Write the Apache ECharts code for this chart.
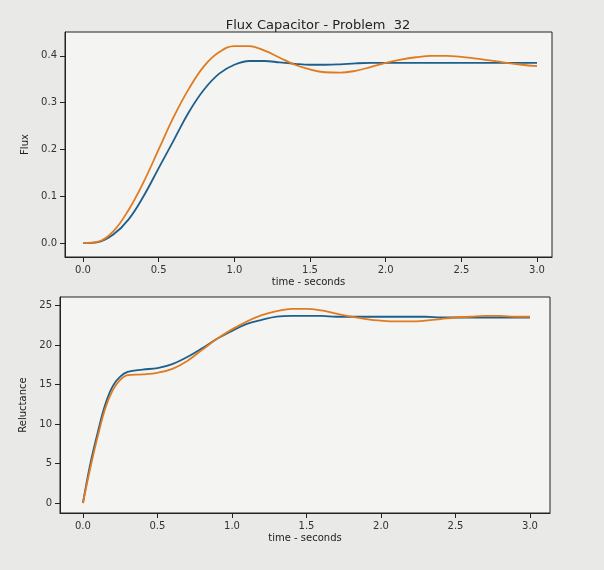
<!DOCTYPE html>
<html><head><meta charset="utf-8">
<script src="https://cdn.jsdelivr.net/npm/echarts@6/dist/echarts.min.js"></script>
<style>html,body{margin:0;padding:0;background:#e9e9e7}#c{width:604px;height:570px}</style>
</head><body><div id="c"></div>
<script>
const t = [0,0.1,0.2,0.3,0.4,0.5,0.6,0.7,0.8,0.9,1.0,1.1,1.2,1.3,1.4,1.5,1.6,1.7,1.8,1.9,2.0,2.1,2.2,2.3,2.4,2.5,2.6,2.7,2.8,2.9,3.0];
const fluxBlue = [0,0.002,0.018,0.05,0.10,0.16,0.22,0.28,0.328,0.362,0.381,0.389,0.389,0.386,0.383,0.381,0.381,0.382,0.384,0.385,0.385,0.385,0.385,0.385,0.385,0.385,0.385,0.385,0.385,0.385,0.385];
const fluxOrange = [0,0.003,0.025,0.07,0.13,0.20,0.27,0.33,0.378,0.408,0.421,0.421,0.411,0.396,0.381,0.371,0.365,0.364,0.368,0.376,0.385,0.392,0.397,0.400,0.400,0.398,0.394,0.39,0.385,0.381,0.378];
const t2 = [0,0.05,0.1,0.15,0.2,0.25,0.3,0.4,0.5,0.6,0.7,0.8,0.9,1.0,1.1,1.2,1.3,1.4,1.5,1.6,1.7,1.8,1.9,2.0,2.1,2.2,2.3,2.4,2.5,2.6,2.7,2.8,2.9,3.0];
const relBlue = [0,5,9,12.5,14.8,16,16.6,16.9,17.1,17.6,18.5,19.6,20.8,21.8,22.7,23.2,23.6,23.7,23.7,23.7,23.6,23.6,23.6,23.6,23.6,23.6,23.6,23.5,23.5,23.5,23.5,23.5,23.5,23.5];
const relOrange = [0,4.5,8.5,12,14.3,15.6,16.2,16.3,16.5,17.0,18.0,19.4,20.8,22.0,23.0,23.8,24.3,24.6,24.6,24.4,24.0,23.6,23.3,23.1,23.0,23.0,23.1,23.3,23.5,23.6,23.7,23.7,23.6,23.6];
const xTicks = [0,0.5,1.0,1.5,2.0,2.5,3.0];
const fluxTicks = [0,0.1,0.2,0.3,0.4];
const relTicks = [0,5,10,15,20,25];
const BLUE='#1f5f8b', ORANGE='#e07b1f';
const pair=(xs,ys)=>xs.map((x,i)=>[x,ys[i]]);
const lab={color:'#333',fontSize:10,fontFamily:'DejaVu Sans'};
function xAx(gi,min,max){return {type:'value',gridIndex:gi,min,max,name:'time - seconds',nameLocation:'middle',nameGap:20,
 nameTextStyle:{color:'#222',fontSize:10,fontFamily:'DejaVu Sans'},splitLine:{show:false},
 axisLine:{onZero:false,lineStyle:{color:'#222'}},axisTick:{customValues:xTicks,lineStyle:{color:'#222'}},
 axisLabel:Object.assign({customValues:xTicks,formatter:v=>v.toFixed(1)},lab)};}
function yAx(gi,min,max,ticks,name,fmt){return {type:'value',gridIndex:gi,min,max,name,nameLocation:'middle',nameGap:30,
 nameTextStyle:{color:'#222',fontSize:10,fontFamily:'DejaVu Sans'},splitLine:{show:false},
 axisLine:{onZero:false,lineStyle:{color:'#222'}},axisTick:{customValues:ticks,lineStyle:{color:'#222'}},
 axisLabel:Object.assign({customValues:ticks,formatter:fmt},lab)};}
const ln=(xi,d,c)=>({type:'line',xAxisIndex:xi,yAxisIndex:xi,data:d,smooth:0.4,showSymbol:false,lineStyle:{color:c,width:1.8}});
echarts.init(document.getElementById('c')).setOption({
 animation:false,
 title:{text:'Flux Capacitor - Problem  32',left:313,top:14,textAlign:'center',textStyle:{fontSize:13,fontWeight:'normal',color:'#222',fontFamily:'DejaVu Sans'}},
 grid:[{left:65,top:32,width:487,height:225,show:true,backgroundColor:'#f4f4f2',borderColor:'#222'},
       {left:60,top:297,width:490,height:216,show:true,backgroundColor:'#f4f4f2',borderColor:'#222'}],
 xAxis:[xAx(0,-0.119,3.099),xAx(1,-0.154,3.134)],
 yAxis:[yAx(0,-0.03,0.451,fluxTicks,'Flux',v=>v.toFixed(1)),yAx(1,-1.27,26.1,relTicks,'Reluctance',v=>String(v))],
 series:[ln(0,pair(t,fluxBlue),BLUE),ln(0,pair(t,fluxOrange),ORANGE),ln(1,pair(t2,relBlue),BLUE),ln(1,pair(t2,relOrange),ORANGE)]
});
</script></body></html>
